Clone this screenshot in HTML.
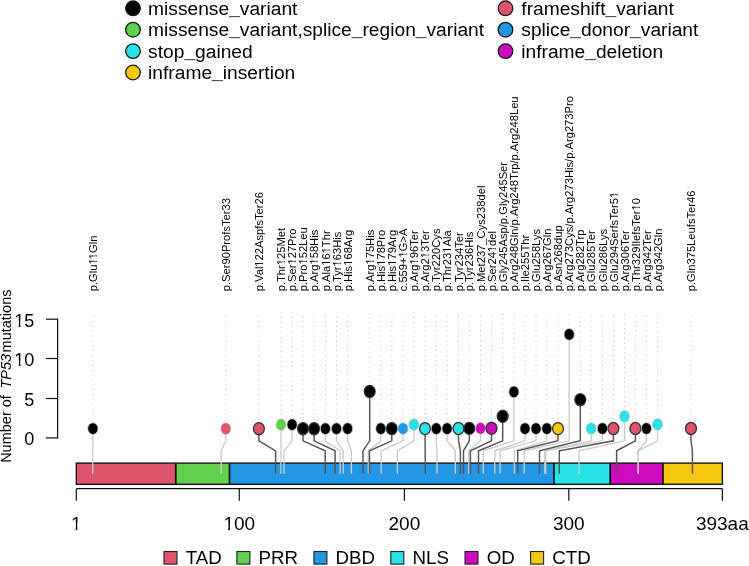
<!DOCTYPE html>
<html><head><meta charset="utf-8"><style>
html,body{margin:0;padding:0;background:#fff;}
svg{display:block;will-change:transform;}
text{font-family:"Liberation Sans",sans-serif;fill:#000;}
</style></head><body>
<svg width="749" height="566" viewBox="0 0 749 566">
<rect x="0" y="0" width="749" height="566" fill="#fff"/>
<g>
<circle cx="133" cy="8.3" r="7.3" fill="#000000" stroke="#1a1a1a" stroke-width="1.3"/>
<text x="148.1" y="15.3" font-size="19.2">missense<tspan dy="-2" fill="#555">_</tspan><tspan dy="2">​</tspan>variant</text>
<circle cx="133" cy="29.7" r="7.3" fill="#61D04F" stroke="#1a1a1a" stroke-width="1.3"/>
<text x="148.1" y="35.9" font-size="19.2">missense<tspan dy="-2" fill="#555">_</tspan><tspan dy="2">​</tspan>variant,splice<tspan dy="-2" fill="#555">_</tspan><tspan dy="2">​</tspan>region<tspan dy="-2" fill="#555">_</tspan><tspan dy="2">​</tspan>variant</text>
<circle cx="133" cy="51.1" r="7.3" fill="#28E2E5" stroke="#1a1a1a" stroke-width="1.3"/>
<text x="148.1" y="58.1" font-size="19.2">stop<tspan dy="-2" fill="#555">_</tspan><tspan dy="2">​</tspan>gained</text>
<circle cx="133" cy="72.5" r="7.3" fill="#F5C710" stroke="#1a1a1a" stroke-width="1.3"/>
<text x="148.1" y="79.2" font-size="19.2">inframe<tspan dy="-2" fill="#555">_</tspan><tspan dy="2">​</tspan>insertion</text>
<circle cx="505.5" cy="8.3" r="7.3" fill="#DF536B" stroke="#1a1a1a" stroke-width="1.3"/>
<text x="521.3" y="15.3" font-size="19.2">frameshift<tspan dy="-2" fill="#555">_</tspan><tspan dy="2">​</tspan>variant</text>
<circle cx="505.5" cy="29.7" r="7.3" fill="#2297E6" stroke="#1a1a1a" stroke-width="1.3"/>
<text x="521.3" y="35.9" font-size="19.2">splice<tspan dy="-2" fill="#555">_</tspan><tspan dy="2">​</tspan>donor<tspan dy="-2" fill="#555">_</tspan><tspan dy="2">​</tspan>variant</text>
<circle cx="505.5" cy="51.1" r="7.3" fill="#CD0BBC" stroke="#1a1a1a" stroke-width="1.3"/>
<text x="521.3" y="58.1" font-size="19.2">inframe<tspan dy="-2" fill="#555">_</tspan><tspan dy="2">​</tspan>deletion</text>
</g>
<text id="t1" class="f1" transform="translate(97.0,291.3) rotate(-90)"  font-size="11.2">p.Glu11Gln</text>
<g fill="#fff" transform="translate(97.0,291.3) rotate(-90)"><rect x="27.17" y="-3.83" width="2.36" height="4.73"/><rect x="30.56" y="-3.83" width="2.30" height="4.73"/><rect x="32.56" y="-3.83" width="2.36" height="4.73"/><rect x="35.95" y="-3.83" width="2.30" height="4.73"/></g>
<line x1="92.9" y1="429.15" x2="92.9" y2="312.35" stroke="#c4c4c4" stroke-width="1" stroke-dasharray="1.1 3.77"/>
<text transform="translate(229.9,291.3) rotate(-90)"  font-size="11.2">p.Ser90ProfsTer33</text>
<line x1="225.8" y1="429.25" x2="225.8" y2="312.35" stroke="#c4c4c4" stroke-width="1" stroke-dasharray="1.1 3.77"/>
<text id="t2" class="f1" transform="translate(263.0,291.3) rotate(-90)"  font-size="11.2">p.Val122AspfsTer26</text>
<g fill="#fff" transform="translate(263.0,291.3) rotate(-90)"><rect x="25.09" y="-3.83" width="2.36" height="4.73"/><rect x="28.48" y="-3.83" width="2.30" height="4.73"/></g>
<line x1="258.9" y1="429.25" x2="258.9" y2="312.35" stroke="#c4c4c4" stroke-width="1" stroke-dasharray="1.1 3.77"/>
<text id="t3" class="f1" transform="translate(285.1,291.3) rotate(-90)"  font-size="11.2">p.Thr125Met</text>
<g fill="#fff" transform="translate(285.1,291.3) rotate(-90)"><rect x="26.55" y="-3.83" width="2.36" height="4.73"/><rect x="29.94" y="-3.83" width="2.30" height="4.73"/></g>
<line x1="281.0" y1="425.25" x2="281.0" y2="312.35" stroke="#c4c4c4" stroke-width="1" stroke-dasharray="1.1 3.77"/>
<text id="t4" class="f1" transform="translate(296.2,291.3) rotate(-90)"  font-size="11.2">p.Ser127Pro</text>
<g fill="#fff" transform="translate(296.2,291.3) rotate(-90)"><rect x="27.17" y="-3.83" width="2.36" height="4.73"/><rect x="30.56" y="-3.83" width="2.30" height="4.73"/></g>
<line x1="292.1" y1="425.15" x2="292.1" y2="312.35" stroke="#c4c4c4" stroke-width="1" stroke-dasharray="1.1 3.77"/>
<text id="t5" class="f1" transform="translate(307.1,291.3) rotate(-90)"  font-size="11.2">p.Pro152Leu</text>
<g fill="#fff" transform="translate(307.1,291.3) rotate(-90)"><rect x="27.17" y="-3.83" width="2.36" height="4.73"/><rect x="30.56" y="-3.83" width="2.30" height="4.73"/></g>
<line x1="303.0" y1="429.25" x2="303.0" y2="312.35" stroke="#c4c4c4" stroke-width="1" stroke-dasharray="1.1 3.77"/>
<text id="t6" class="f1" transform="translate(318.2,291.3) rotate(-90)"  font-size="11.2">p.Arg158His</text>
<g fill="#fff" transform="translate(318.2,291.3) rotate(-90)"><rect x="27.17" y="-3.83" width="2.36" height="4.73"/><rect x="30.56" y="-3.83" width="2.30" height="4.73"/></g>
<line x1="314.1" y1="429.25" x2="314.1" y2="312.35" stroke="#c4c4c4" stroke-width="1" stroke-dasharray="1.1 3.77"/>
<text id="t7" class="f1" transform="translate(329.5,291.3) rotate(-90)"  font-size="11.2">p.Ala161Thr</text>
<g fill="#fff" transform="translate(329.5,291.3) rotate(-90)"><rect x="25.92" y="-3.83" width="2.36" height="4.73"/><rect x="29.31" y="-3.83" width="2.30" height="4.73"/><rect x="38.38" y="-3.83" width="2.36" height="4.73"/><rect x="41.77" y="-3.83" width="2.30" height="4.73"/></g>
<line x1="325.4" y1="429.25" x2="325.4" y2="312.35" stroke="#c4c4c4" stroke-width="1" stroke-dasharray="1.1 3.77"/>
<text id="t8" class="f1" transform="translate(340.6,291.3) rotate(-90)"  font-size="11.2">p.Tyr163His</text>
<g fill="#fff" transform="translate(340.6,291.3) rotate(-90)"><rect x="25.30" y="-3.83" width="2.36" height="4.73"/><rect x="28.69" y="-3.83" width="2.30" height="4.73"/></g>
<line x1="336.5" y1="429.25" x2="336.5" y2="312.35" stroke="#c4c4c4" stroke-width="1" stroke-dasharray="1.1 3.77"/>
<text id="t9" class="f1" transform="translate(351.7,291.3) rotate(-90)"  font-size="11.2">p.His168Arg</text>
<g fill="#fff" transform="translate(351.7,291.3) rotate(-90)"><rect x="25.92" y="-3.83" width="2.36" height="4.73"/><rect x="29.31" y="-3.83" width="2.30" height="4.73"/></g>
<line x1="347.6" y1="429.15" x2="347.6" y2="312.35" stroke="#c4c4c4" stroke-width="1" stroke-dasharray="1.1 3.77"/>
<text id="t10" class="f1" transform="translate(373.8,291.3) rotate(-90)"  font-size="11.2">p.Arg175His</text>
<g fill="#fff" transform="translate(373.8,291.3) rotate(-90)"><rect x="27.17" y="-3.83" width="2.36" height="4.73"/><rect x="30.56" y="-3.83" width="2.30" height="4.73"/></g>
<line x1="369.7" y1="392.05" x2="369.7" y2="312.35" stroke="#c4c4c4" stroke-width="1" stroke-dasharray="1.1 3.77"/>
<text id="t11" class="f1" transform="translate(384.9,291.3) rotate(-90)"  font-size="11.2">p.His178Pro</text>
<g fill="#fff" transform="translate(384.9,291.3) rotate(-90)"><rect x="25.92" y="-3.83" width="2.36" height="4.73"/><rect x="29.31" y="-3.83" width="2.30" height="4.73"/></g>
<line x1="380.8" y1="429.15" x2="380.8" y2="312.35" stroke="#c4c4c4" stroke-width="1" stroke-dasharray="1.1 3.77"/>
<text id="t12" class="f1" transform="translate(395.9,291.3) rotate(-90)"  font-size="11.2">p.His179Arg</text>
<g fill="#fff" transform="translate(395.9,291.3) rotate(-90)"><rect x="25.92" y="-3.83" width="2.36" height="4.73"/><rect x="29.31" y="-3.83" width="2.30" height="4.73"/></g>
<line x1="391.8" y1="429.15" x2="391.8" y2="312.35" stroke="#c4c4c4" stroke-width="1" stroke-dasharray="1.1 3.77"/>
<text id="t13" class="f1" transform="translate(407.1,291.3) rotate(-90)"  font-size="11.2">c.559+1G&gt;A</text>
<g fill="#fff" transform="translate(407.1,291.3) rotate(-90)"><rect x="34.33" y="-3.83" width="2.36" height="4.73"/><rect x="37.72" y="-3.83" width="2.30" height="4.73"/></g>
<line x1="403.0" y1="429.15" x2="403.0" y2="312.35" stroke="#c4c4c4" stroke-width="1" stroke-dasharray="1.1 3.77"/>
<text id="t14" class="f1" transform="translate(418.0,291.3) rotate(-90)"  font-size="11.2">p.Arg196Ter</text>
<g fill="#fff" transform="translate(418.0,291.3) rotate(-90)"><rect x="27.17" y="-3.83" width="2.36" height="4.73"/><rect x="30.56" y="-3.83" width="2.30" height="4.73"/></g>
<line x1="413.9" y1="425.05" x2="413.9" y2="312.35" stroke="#c4c4c4" stroke-width="1" stroke-dasharray="1.1 3.77"/>
<text id="t15" class="f1" transform="translate(429.1,291.3) rotate(-90)"  font-size="11.2">p.Arg213Ter</text>
<g fill="#fff" transform="translate(429.1,291.3) rotate(-90)"><rect x="33.39" y="-3.83" width="2.36" height="4.73"/><rect x="36.78" y="-3.83" width="2.30" height="4.73"/></g>
<line x1="425.0" y1="429.15" x2="425.0" y2="312.35" stroke="#c4c4c4" stroke-width="1" stroke-dasharray="1.1 3.77"/>
<text transform="translate(440.4,291.3) rotate(-90)"  font-size="11.2">p.Tyr220Cys</text>
<line x1="436.3" y1="429.15" x2="436.3" y2="312.35" stroke="#c4c4c4" stroke-width="1" stroke-dasharray="1.1 3.77"/>
<text id="t16" class="f1" transform="translate(451.2,291.3) rotate(-90)"  font-size="11.2">p.Thr231Ala</text>
<g fill="#fff" transform="translate(451.2,291.3) rotate(-90)"><rect x="38.98" y="-3.83" width="2.36" height="4.73"/><rect x="42.38" y="-3.83" width="2.30" height="4.73"/></g>
<line x1="447.1" y1="429.15" x2="447.1" y2="312.35" stroke="#c4c4c4" stroke-width="1" stroke-dasharray="1.1 3.77"/>
<text transform="translate(462.6,291.3) rotate(-90)"  font-size="11.2">p.Tyr234Ter</text>
<line x1="458.5" y1="429.05" x2="458.5" y2="312.35" stroke="#c4c4c4" stroke-width="1" stroke-dasharray="1.1 3.77"/>
<text transform="translate(473.4,291.3) rotate(-90)"  font-size="11.2">p.Tyr236His</text>
<line x1="469.3" y1="428.95" x2="469.3" y2="312.35" stroke="#c4c4c4" stroke-width="1" stroke-dasharray="1.1 3.77"/>
<text transform="translate(484.6,291.3) rotate(-90)"  font-size="11.2">p.Met237_Cys238del</text>
<line x1="480.5" y1="428.85" x2="480.5" y2="312.35" stroke="#c4c4c4" stroke-width="1" stroke-dasharray="1.1 3.77"/>
<text id="t17" class="f1" transform="translate(495.6,291.3) rotate(-90)"  font-size="11.2">p.Ser241del</text>
<g fill="#fff" transform="translate(495.6,291.3) rotate(-90)"><rect x="39.61" y="-3.83" width="2.36" height="4.73"/><rect x="43.00" y="-3.83" width="2.30" height="4.73"/></g>
<line x1="491.5" y1="428.85" x2="491.5" y2="312.35" stroke="#c4c4c4" stroke-width="1" stroke-dasharray="1.1 3.77"/>
<text transform="translate(506.8,291.3) rotate(-90)"  font-size="11.2">p.Gly245Asp/p.Gly245Ser</text>
<line x1="502.7" y1="416.85" x2="502.7" y2="312.35" stroke="#c4c4c4" stroke-width="1" stroke-dasharray="1.1 3.77"/>
<text transform="translate(518.0,291.3) rotate(-90)"  font-size="11.2">p.Arg248Gln/p.Arg248Trp/p.Arg248Leu</text>
<line x1="513.9" y1="392.45" x2="513.9" y2="312.35" stroke="#c4c4c4" stroke-width="1" stroke-dasharray="1.1 3.77"/>
<text transform="translate(529.1,291.3) rotate(-90)"  font-size="11.2">p.Ile255Thr</text>
<line x1="525.0" y1="429.15" x2="525.0" y2="312.35" stroke="#c4c4c4" stroke-width="1" stroke-dasharray="1.1 3.77"/>
<text transform="translate(540.1,291.3) rotate(-90)"  font-size="11.2">p.Glu258Lys</text>
<line x1="536.0" y1="429.15" x2="536.0" y2="312.35" stroke="#c4c4c4" stroke-width="1" stroke-dasharray="1.1 3.77"/>
<text transform="translate(550.9,291.3) rotate(-90)"  font-size="11.2">p.Arg267Gln</text>
<line x1="546.8" y1="429.15" x2="546.8" y2="312.35" stroke="#c4c4c4" stroke-width="1" stroke-dasharray="1.1 3.77"/>
<text transform="translate(562.1,291.3) rotate(-90)"  font-size="11.2">p.Asn268dup</text>
<line x1="558.0" y1="429.15" x2="558.0" y2="312.35" stroke="#c4c4c4" stroke-width="1" stroke-dasharray="1.1 3.77"/>
<text transform="translate(573.3,291.3) rotate(-90)"  font-size="11.2">p.Arg273Cys/p.Arg273His/p.Arg273Pro</text>
<line x1="569.2" y1="334.95" x2="569.2" y2="312.35" stroke="#c4c4c4" stroke-width="1" stroke-dasharray="1.1 3.77"/>
<text transform="translate(584.4,291.3) rotate(-90)"  font-size="11.2">p.Arg282Trp</text>
<line x1="580.3" y1="400.25" x2="580.3" y2="312.35" stroke="#c4c4c4" stroke-width="1" stroke-dasharray="1.1 3.77"/>
<text transform="translate(595.2,291.3) rotate(-90)"  font-size="11.2">p.Glu285Ter</text>
<line x1="591.1" y1="429.05" x2="591.1" y2="312.35" stroke="#c4c4c4" stroke-width="1" stroke-dasharray="1.1 3.77"/>
<text transform="translate(606.5,291.3) rotate(-90)"  font-size="11.2">p.Glu286Lys</text>
<line x1="602.4" y1="429.05" x2="602.4" y2="312.35" stroke="#c4c4c4" stroke-width="1" stroke-dasharray="1.1 3.77"/>
<text id="t18" class="f1" transform="translate(617.5,291.3) rotate(-90)"  font-size="11.2">p.Glu294SerfsTer51</text>
<g fill="#fff" transform="translate(617.5,291.3) rotate(-90)"><rect x="93.70" y="-3.83" width="2.36" height="4.73"/><rect x="97.09" y="-3.83" width="2.30" height="4.73"/></g>
<line x1="613.4" y1="429.05" x2="613.4" y2="312.35" stroke="#c4c4c4" stroke-width="1" stroke-dasharray="1.1 3.77"/>
<text transform="translate(628.6,291.3) rotate(-90)"  font-size="11.2">p.Arg306Ter</text>
<line x1="624.5" y1="416.85" x2="624.5" y2="312.35" stroke="#c4c4c4" stroke-width="1" stroke-dasharray="1.1 3.77"/>
<text id="t19" class="f1" transform="translate(639.5,291.3) rotate(-90)"  font-size="11.2">p.Thr329IlefsTer10</text>
<g fill="#fff" transform="translate(639.5,291.3) rotate(-90)"><rect x="81.27" y="-3.83" width="2.36" height="4.73"/><rect x="84.66" y="-3.83" width="2.30" height="4.73"/></g>
<line x1="635.4" y1="429.05" x2="635.4" y2="312.35" stroke="#c4c4c4" stroke-width="1" stroke-dasharray="1.1 3.77"/>
<text transform="translate(650.5,291.3) rotate(-90)"  font-size="11.2">p.Arg342Ter</text>
<line x1="646.4" y1="429.05" x2="646.4" y2="312.35" stroke="#c4c4c4" stroke-width="1" stroke-dasharray="1.1 3.77"/>
<text transform="translate(661.7,291.3) rotate(-90)"  font-size="11.2">p.Arg342Gln</text>
<line x1="657.6" y1="424.95" x2="657.6" y2="312.35" stroke="#c4c4c4" stroke-width="1" stroke-dasharray="1.1 3.77"/>
<text transform="translate(695.1,291.3) rotate(-90)"  font-size="11.2">p.Gln375LeufsTer46</text>
<line x1="691.0" y1="429.05" x2="691.0" y2="312.35" stroke="#c4c4c4" stroke-width="1" stroke-dasharray="1.1 3.77"/>
<rect x="76.3" y="463.1" width="99.5" height="21.2" fill="#DF536B"/>
<rect x="175.8" y="463.1" width="53.7" height="21.2" fill="#61D04F"/>
<rect x="229.5" y="463.1" width="324.5" height="21.2" fill="#2297E6"/>
<rect x="554.0" y="463.1" width="56.2" height="21.2" fill="#28E2E5"/>
<rect x="610.2" y="463.1" width="52.8" height="21.2" fill="#CD0BBC"/>
<rect x="663.0" y="463.1" width="59.4" height="21.2" fill="#F5C710"/>
<rect x="76.3" y="463.1" width="646.1" height="21.2" fill="none" stroke="#111" stroke-width="1.35"/>
<line x1="175.8" y1="463.1" x2="175.8" y2="484.3" stroke="#111" stroke-width="1.7"/>
<line x1="229.5" y1="463.1" x2="229.5" y2="484.3" stroke="#111" stroke-width="1.7"/>
<line x1="554.0" y1="463.1" x2="554.0" y2="484.3" stroke="#111" stroke-width="1.7"/>
<line x1="610.2" y1="463.1" x2="610.2" y2="484.3" stroke="#111" stroke-width="1.7"/>
<line x1="663.0" y1="463.1" x2="663.0" y2="484.3" stroke="#111" stroke-width="1.7"/>
<polyline points="92.7,473.7 92.9,428.6" fill="none" stroke="#cbcbcb" stroke-width="1.35"/>
<polyline points="221.2,473.7 221.2,450.8 225.8,440.8 225.8,428.7" fill="none" stroke="#cbcbcb" stroke-width="1.35"/>
<polyline points="280.9,473.7 281.0,424.7" fill="none" stroke="#cbcbcb" stroke-width="1.35"/>
<polyline points="284.0,473.7 284.0,450.8 292.1,440.8 292.1,424.6" fill="none" stroke="#cbcbcb" stroke-width="1.35"/>
<polyline points="340.1,473.7 340.1,450.8 325.4,440.8 325.4,428.7" fill="none" stroke="#cbcbcb" stroke-width="1.35"/>
<polyline points="343.2,473.7 343.2,450.8 336.5,440.8 336.5,428.7" fill="none" stroke="#cbcbcb" stroke-width="1.35"/>
<polyline points="351.4,473.7 351.4,450.8 347.6,440.8 347.6,428.6" fill="none" stroke="#cbcbcb" stroke-width="1.35"/>
<polyline points="368.3,473.7 368.3,450.8 380.8,440.8 380.8,428.6" fill="none" stroke="#cbcbcb" stroke-width="1.35"/>
<polyline points="381.2,473.7 381.2,450.8 403.0,440.8 403.0,428.6" fill="none" stroke="#cbcbcb" stroke-width="1.35"/>
<polyline points="397.4,473.7 397.4,450.8 413.9,440.8 413.9,424.5" fill="none" stroke="#cbcbcb" stroke-width="1.35"/>
<polyline points="437.0,473.7 437.0,450.8 436.3,440.8 436.3,428.6" fill="none" stroke="#cbcbcb" stroke-width="1.35"/>
<polyline points="455.3,473.7 455.3,450.8 447.1,440.8 447.1,428.6" fill="none" stroke="#cbcbcb" stroke-width="1.35"/>
<polyline points="468.7,473.7 468.7,450.8 480.5,440.8 480.5,428.3" fill="none" stroke="#cbcbcb" stroke-width="1.35"/>
<polyline points="483.3,473.7 483.3,450.8 513.9,440.8 513.9,391.9" fill="none" stroke="#cbcbcb" stroke-width="1.35"/>
<polyline points="494.8,473.7 494.8,450.8 525.0,440.8 525.0,428.6" fill="none" stroke="#cbcbcb" stroke-width="1.35"/>
<polyline points="500.1,473.7 500.1,450.8 536.0,440.8 536.0,428.6" fill="none" stroke="#cbcbcb" stroke-width="1.35"/>
<polyline points="514.4,473.7 514.4,450.8 546.8,440.8 546.8,428.6" fill="none" stroke="#cbcbcb" stroke-width="1.35"/>
<polyline points="524.2,473.7 524.2,450.8 569.2,440.8 569.2,334.4" fill="none" stroke="#cbcbcb" stroke-width="1.35"/>
<polyline points="544.8,473.7 544.8,450.8 591.1,440.8 591.1,428.5" fill="none" stroke="#cbcbcb" stroke-width="1.35"/>
<polyline points="545.7,473.7 545.7,450.8 602.4,440.8 602.4,428.5" fill="none" stroke="#cbcbcb" stroke-width="1.35"/>
<polyline points="579.0,473.7 579.0,450.8 624.5,440.8 624.5,416.3" fill="none" stroke="#cbcbcb" stroke-width="1.35"/>
<polyline points="638.2,473.7 638.2,450.8 646.4,440.8 646.4,428.5" fill="none" stroke="#cbcbcb" stroke-width="1.35"/>
<polyline points="638.2,473.7 638.2,450.8 657.6,440.8 657.6,424.4" fill="none" stroke="#cbcbcb" stroke-width="1.35"/>
<polyline points="275.6,473.7 275.6,450.8 258.9,440.8 258.9,428.7" fill="none" stroke="#555555" stroke-width="1.45"/>
<polyline points="325.2,473.7 325.2,450.8 303.0,440.8 303.0,428.7" fill="none" stroke="#555555" stroke-width="1.45"/>
<polyline points="335.1,473.7 335.1,450.8 314.1,440.8 314.1,428.7" fill="none" stroke="#555555" stroke-width="1.45"/>
<polyline points="363.0,473.7 363.0,450.8 369.7,440.8 369.7,391.5" fill="none" stroke="#555555" stroke-width="1.45"/>
<polyline points="369.5,473.7 369.5,450.8 391.8,440.8 391.8,428.6" fill="none" stroke="#555555" stroke-width="1.45"/>
<polyline points="425.4,473.7 425.0,428.6" fill="none" stroke="#555555" stroke-width="1.45"/>
<polyline points="460.4,473.7 460.4,450.8 458.5,440.8 458.5,428.5" fill="none" stroke="#555555" stroke-width="1.45"/>
<polyline points="463.5,473.7 463.5,450.8 469.3,440.8 469.3,428.4" fill="none" stroke="#555555" stroke-width="1.45"/>
<polyline points="470.4,473.7 470.4,450.8 491.5,440.8 491.5,428.3" fill="none" stroke="#555555" stroke-width="1.45"/>
<polyline points="478.5,473.7 478.5,450.8 502.7,440.8 502.7,416.3" fill="none" stroke="#555555" stroke-width="1.45"/>
<polyline points="517.7,473.7 517.7,450.8 558.0,440.8 558.0,428.6" fill="none" stroke="#555555" stroke-width="1.45"/>
<polyline points="539.5,473.7 539.5,450.8 580.3,440.8 580.3,399.7" fill="none" stroke="#555555" stroke-width="1.45"/>
<polyline points="559.3,473.7 559.3,450.8 613.4,440.8 613.4,428.5" fill="none" stroke="#555555" stroke-width="1.45"/>
<polyline points="616.6,473.7 616.6,450.8 635.4,440.8 635.4,428.5" fill="none" stroke="#555555" stroke-width="1.45"/>
<polyline points="692.4,473.7 692.4,450.8 691.0,440.8 691.0,428.5" fill="none" stroke="#555555" stroke-width="1.45"/>
<ellipse cx="92.9" cy="428.6" rx="5.1" ry="5.85" fill="#000000" stroke="#cbcbcb" stroke-width="0.8"/>
<ellipse cx="225.8" cy="428.7" rx="5.1" ry="5.85" fill="#DF536B" stroke="#cbcbcb" stroke-width="0.8"/>
<ellipse cx="258.9" cy="428.7" rx="5.449999999999999" ry="6.05" fill="#DF536B" stroke="#333" stroke-width="1.3"/>
<ellipse cx="281.0" cy="424.7" rx="5.1" ry="5.85" fill="#61D04F" stroke="#cbcbcb" stroke-width="0.8"/>
<ellipse cx="292.1" cy="424.6" rx="5.1" ry="5.85" fill="#000000" stroke="#cbcbcb" stroke-width="0.8"/>
<ellipse cx="303.0" cy="428.7" rx="5.449999999999999" ry="6.05" fill="#000000" stroke="#333" stroke-width="1.3"/>
<ellipse cx="314.1" cy="428.7" rx="5.449999999999999" ry="6.05" fill="#000000" stroke="#333" stroke-width="1.3"/>
<ellipse cx="325.4" cy="428.7" rx="5.1" ry="5.85" fill="#000000" stroke="#cbcbcb" stroke-width="0.8"/>
<ellipse cx="336.5" cy="428.7" rx="5.1" ry="5.85" fill="#000000" stroke="#cbcbcb" stroke-width="0.8"/>
<ellipse cx="347.6" cy="428.6" rx="5.1" ry="5.85" fill="#000000" stroke="#cbcbcb" stroke-width="0.8"/>
<ellipse cx="369.7" cy="391.5" rx="5.449999999999999" ry="6.05" fill="#000000" stroke="#333" stroke-width="1.3"/>
<ellipse cx="380.8" cy="428.6" rx="5.1" ry="5.85" fill="#000000" stroke="#cbcbcb" stroke-width="0.8"/>
<ellipse cx="391.8" cy="428.6" rx="5.449999999999999" ry="6.05" fill="#000000" stroke="#333" stroke-width="1.3"/>
<ellipse cx="403.0" cy="428.6" rx="5.1" ry="5.85" fill="#2297E6" stroke="#cbcbcb" stroke-width="0.8"/>
<ellipse cx="413.9" cy="424.5" rx="5.1" ry="5.85" fill="#28E2E5" stroke="#cbcbcb" stroke-width="0.8"/>
<ellipse cx="425.0" cy="428.6" rx="5.449999999999999" ry="6.05" fill="#28E2E5" stroke="#333" stroke-width="1.3"/>
<ellipse cx="436.3" cy="428.6" rx="5.1" ry="5.85" fill="#000000" stroke="#cbcbcb" stroke-width="0.8"/>
<ellipse cx="447.1" cy="428.6" rx="5.1" ry="5.85" fill="#000000" stroke="#cbcbcb" stroke-width="0.8"/>
<ellipse cx="458.5" cy="428.5" rx="5.449999999999999" ry="6.05" fill="#28E2E5" stroke="#333" stroke-width="1.3"/>
<ellipse cx="469.3" cy="428.4" rx="5.449999999999999" ry="6.05" fill="#000000" stroke="#333" stroke-width="1.3"/>
<ellipse cx="480.5" cy="428.3" rx="5.1" ry="5.85" fill="#CD0BBC" stroke="#cbcbcb" stroke-width="0.8"/>
<ellipse cx="491.5" cy="428.3" rx="5.449999999999999" ry="6.05" fill="#CD0BBC" stroke="#333" stroke-width="1.3"/>
<ellipse cx="502.7" cy="416.3" rx="5.449999999999999" ry="6.05" fill="#000000" stroke="#333" stroke-width="1.3"/>
<ellipse cx="513.9" cy="391.9" rx="5.1" ry="5.85" fill="#000000" stroke="#cbcbcb" stroke-width="0.8"/>
<ellipse cx="525.0" cy="428.6" rx="5.1" ry="5.85" fill="#000000" stroke="#cbcbcb" stroke-width="0.8"/>
<ellipse cx="536.0" cy="428.6" rx="5.1" ry="5.85" fill="#000000" stroke="#cbcbcb" stroke-width="0.8"/>
<ellipse cx="546.8" cy="428.6" rx="5.1" ry="5.85" fill="#000000" stroke="#cbcbcb" stroke-width="0.8"/>
<ellipse cx="558.0" cy="428.6" rx="5.449999999999999" ry="6.05" fill="#F5C710" stroke="#333" stroke-width="1.3"/>
<ellipse cx="569.2" cy="334.4" rx="5.1" ry="5.85" fill="#000000" stroke="#cbcbcb" stroke-width="0.8"/>
<ellipse cx="580.3" cy="399.7" rx="5.449999999999999" ry="6.05" fill="#000000" stroke="#333" stroke-width="1.3"/>
<ellipse cx="591.1" cy="428.5" rx="5.1" ry="5.85" fill="#28E2E5" stroke="#cbcbcb" stroke-width="0.8"/>
<ellipse cx="602.4" cy="428.5" rx="5.1" ry="5.85" fill="#000000" stroke="#cbcbcb" stroke-width="0.8"/>
<ellipse cx="613.4" cy="428.5" rx="5.449999999999999" ry="6.05" fill="#DF536B" stroke="#333" stroke-width="1.3"/>
<ellipse cx="624.5" cy="416.3" rx="5.1" ry="5.85" fill="#28E2E5" stroke="#cbcbcb" stroke-width="0.8"/>
<ellipse cx="635.4" cy="428.5" rx="5.449999999999999" ry="6.05" fill="#DF536B" stroke="#333" stroke-width="1.3"/>
<ellipse cx="646.4" cy="428.5" rx="5.1" ry="5.85" fill="#000000" stroke="#cbcbcb" stroke-width="0.8"/>
<ellipse cx="657.6" cy="424.4" rx="5.1" ry="5.85" fill="#28E2E5" stroke="#cbcbcb" stroke-width="0.8"/>
<ellipse cx="691.0" cy="428.5" rx="5.449999999999999" ry="6.05" fill="#DF536B" stroke="#333" stroke-width="1.3"/>
<g stroke="#111" stroke-width="1.2" fill="none">
<line x1="57.6" y1="318.6" x2="57.6" y2="438.5"/>
<line x1="46" y1="437.9" x2="57.6" y2="437.9"/>
<line x1="46" y1="398.5" x2="57.6" y2="398.5"/>
<line x1="46" y1="358.5" x2="57.6" y2="358.5"/>
<line x1="46" y1="319.2" x2="57.6" y2="319.2"/>
</g>
<text x="34.3" y="444.9" text-anchor="end" font-size="18.0">0</text>
<text x="34.3" y="405.5" text-anchor="end" font-size="18.0">5</text>
<text id="t20" class="f1" x="34.3" y="366.1" text-anchor="end" font-size="18.0">10</text>
<g fill="#fff"><rect x="14.97" y="359.95" width="3.80" height="7.05"/><rect x="20.42" y="359.95" width="3.69" height="7.05"/></g>
<text id="t21" class="f1" x="34.3" y="326.6" text-anchor="end" font-size="18.0">15</text>
<g fill="#fff"><rect x="14.97" y="320.45" width="3.80" height="7.05"/><rect x="20.42" y="320.45" width="3.69" height="7.05"/></g>
<text transform="translate(11.3,376.2) rotate(-90)" font-size="14.5" text-anchor="middle">Number of <tspan dx="2.5" font-style="italic">TP53</tspan><tspan dx="-2.5"> mutations</tspan></text>
<g stroke="#111" stroke-width="1.2" fill="none">
<line x1="76.3" y1="488.7" x2="722.4" y2="488.7"/>
<line x1="76.3" y1="488.7" x2="76.3" y2="500.7"/>
<line x1="239.3" y1="488.7" x2="239.3" y2="500.7"/>
<line x1="404.4" y1="488.7" x2="404.4" y2="500.7"/>
<line x1="568.8" y1="488.7" x2="568.8" y2="500.7"/>
<line x1="722.4" y1="488.7" x2="722.4" y2="500.7"/>
</g>
<text id="t22" class="f1" x="76.2" y="529.6" text-anchor="middle" font-size="19.0">1</text>
<g fill="#fff"><rect x="71.65" y="523.11" width="4.01" height="7.39"/><rect x="77.41" y="523.11" width="3.90" height="7.39"/></g>
<text id="t23" class="f1" x="239.3" y="529.6" text-anchor="middle" font-size="19.0">100</text>
<g fill="#fff"><rect x="224.19" y="523.11" width="4.01" height="7.39"/><rect x="229.94" y="523.11" width="3.90" height="7.39"/></g>
<text x="404.4" y="529.6" text-anchor="middle" font-size="19.0">200</text>
<text x="568.8" y="529.6" text-anchor="middle" font-size="19.0">300</text>
<text x="722.3" y="529.6" text-anchor="middle" font-size="19.0">393aa</text>
<rect x="164.0" y="551.5" width="13" height="12.6" fill="#DF536B" stroke="#222" stroke-width="1.1"/>
<text x="185.7" y="564.3" font-size="18.7">TAD</text>
<rect x="236.9" y="551.5" width="13" height="12.6" fill="#61D04F" stroke="#222" stroke-width="1.1"/>
<text x="258.6" y="564.3" font-size="18.7">PRR</text>
<rect x="313.9" y="551.5" width="13" height="12.6" fill="#2297E6" stroke="#222" stroke-width="1.1"/>
<text x="335.59999999999997" y="564.3" font-size="18.7">DBD</text>
<rect x="390.8" y="551.5" width="13" height="12.6" fill="#28E2E5" stroke="#222" stroke-width="1.1"/>
<text x="412.5" y="564.3" font-size="18.7">NLS</text>
<rect x="465.0" y="551.5" width="13" height="12.6" fill="#CD0BBC" stroke="#222" stroke-width="1.1"/>
<text x="486.7" y="564.3" font-size="18.7">OD</text>
<rect x="530.6" y="551.5" width="13" height="12.6" fill="#F5C710" stroke="#222" stroke-width="1.1"/>
<text x="552.3000000000001" y="564.3" font-size="18.7">CTD</text>
</svg></body></html>
